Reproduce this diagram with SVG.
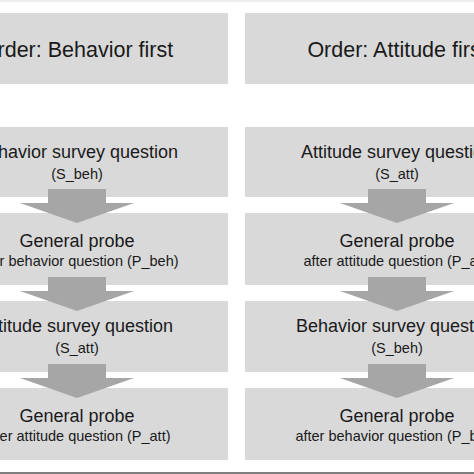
<svg xmlns="http://www.w3.org/2000/svg" width="474" height="474" viewBox="0 0 474 474">
<style>
.box{fill:#d9d9d9}
.arrow{fill:#a6a6a6}
text{font-family:"Liberation Sans",Arial,sans-serif;fill:#1a1a1a;text-anchor:middle}
.hd{font-size:21.5px}
.main{font-size:18px}
.sub{font-size:14.5px}
</style>
<rect x="0" y="0" width="474" height="474" fill="#ffffff"/>
<rect x="0" y="0" width="474" height="2" fill="#eeeeee"/>
<rect x="0" y="472" width="474" height="2" fill="#7f7f7f"/>
<g id="header-left"><rect class="box" x="-80" y="13" width="308" height="71"/><text class="hd" x="77" y="57">Order: Behavior first</text></g>
<g id="header-right"><rect class="box" x="245" y="13" width="308" height="71"/><text class="hd" x="397" y="57">Order: Attitude first</text></g>
<g id="L1"><rect class="box" x="-80" y="127" width="308" height="70"/><text class="main" x="77" y="158">Behavior survey question</text><text class="sub" x="77" y="179">(S_beh)</text></g>
<g id="L2"><rect class="box" x="-80" y="213" width="308" height="72"/><text class="main" x="77" y="247">General probe</text><text class="sub" x="77" y="266">after behavior question (P_beh)</text></g>
<g id="L3"><rect class="box" x="-80" y="301" width="308" height="71"/><text class="main" x="77" y="332">Attitude survey question</text><text class="sub" x="77" y="353">(S_att)</text></g>
<g id="L4"><rect class="box" x="-80" y="388" width="308" height="72"/><text class="main" x="77" y="422">General probe</text><text class="sub" x="77" y="441">after attitude question (P_att)</text></g>
<g id="R1"><rect class="box" x="245" y="127" width="308" height="70"/><text class="main" x="397" y="158">Attitude survey question</text><text class="sub" x="397" y="179">(S_att)</text></g>
<g id="R2"><rect class="box" x="245" y="213" width="308" height="72"/><text class="main" x="397" y="247">General probe</text><text class="sub" x="397" y="266">after attitude question (P_att)</text></g>
<g id="R3"><rect class="box" x="245" y="301" width="308" height="71"/><text class="main" x="397" y="332">Behavior survey question</text><text class="sub" x="397" y="353">(S_beh)</text></g>
<g id="R4"><rect class="box" x="245" y="388" width="308" height="72"/><text class="main" x="397" y="422">General probe</text><text class="sub" x="397" y="441">after behavior question (P_beh)</text></g>
<defs>
<path id="arr" d="M-29,-8 H29 V6 H57 L0,26 L-57,6 H-29 Z"/>
</defs>
<g id="connectors" class="arrow">
<use href="#arr" x="77" y="197"/>
<use href="#arr" x="77" y="285"/>
<use href="#arr" x="77" y="372"/>
<use href="#arr" x="397" y="197"/>
<use href="#arr" x="397" y="285"/>
<use href="#arr" x="397" y="372"/>
</g>
</svg>
